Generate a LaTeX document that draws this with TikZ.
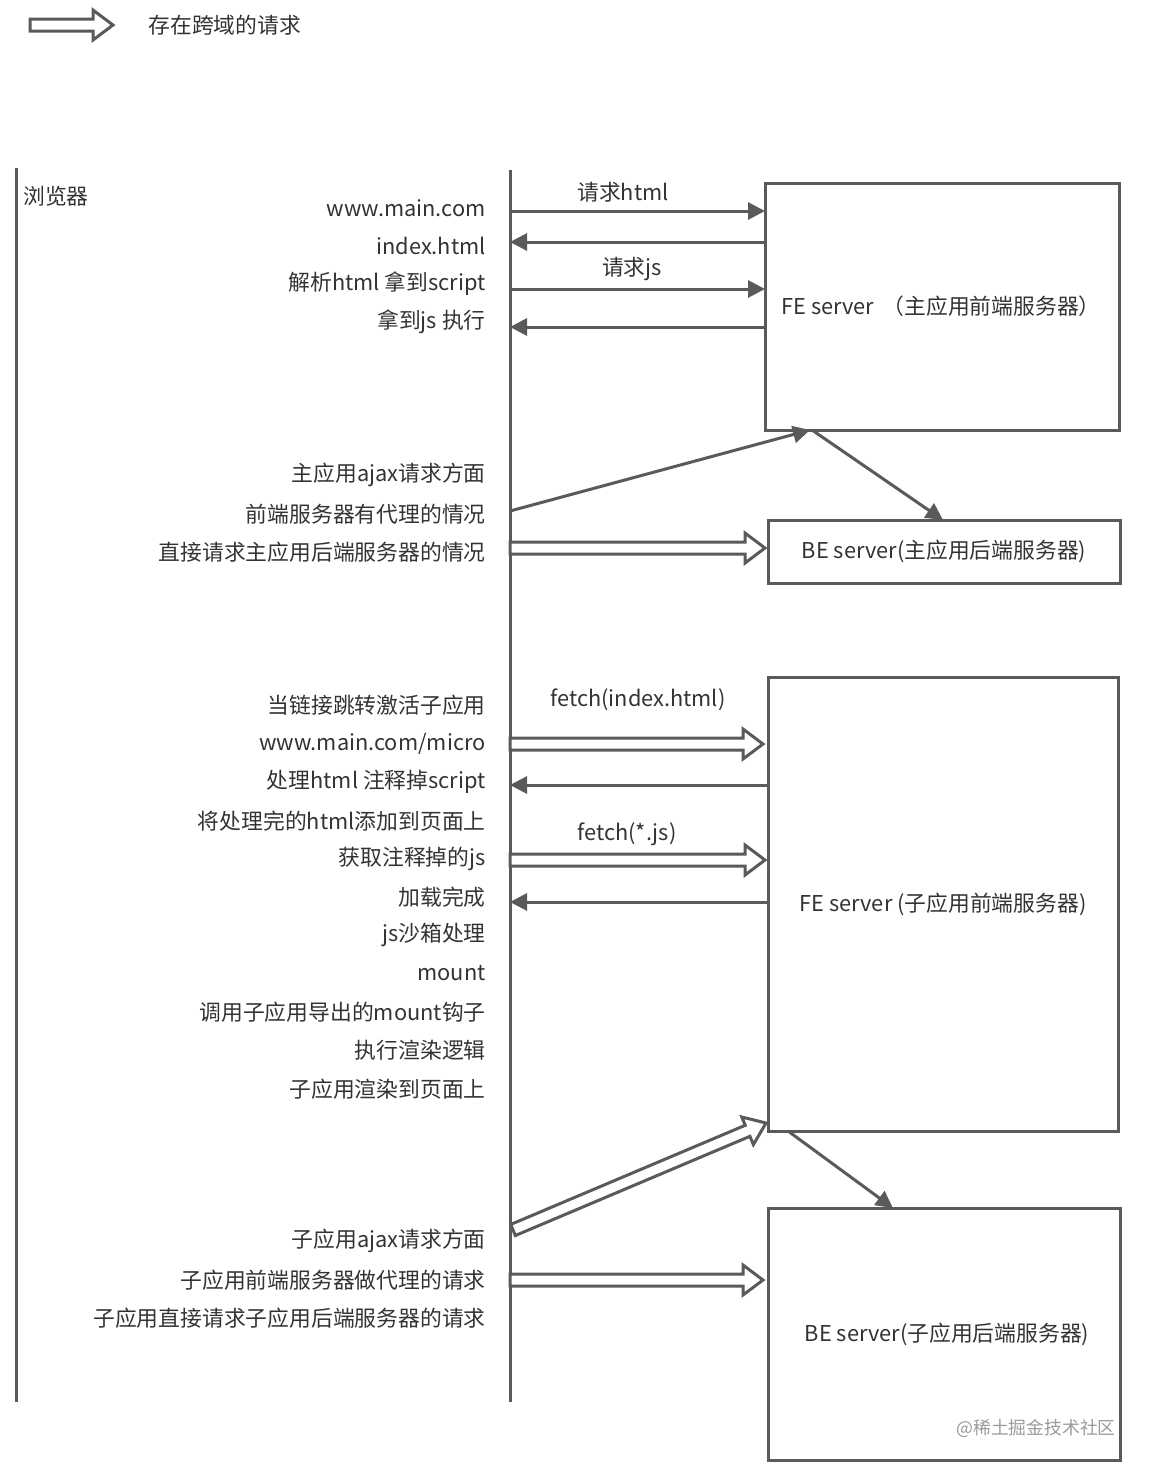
\documentclass[tikz,border=0pt]{standalone}
\usepackage{fontspec}
\setmainfont{Noto Sans CJK SC}
\usetikzlibrary{arrows.meta,calc}
\definecolor{ln}{HTML}{5A5A5A}
\definecolor{tx}{HTML}{333333}
\definecolor{wm}{HTML}{9A9A9A}
\newcommand\hollowarrow[3]{%
  \coordinate (#3n) at ($(#2)!10pt!(#1)$);
  \draw[hollow] ($(#1)!3pt!90:(#2)$) -- ($(#3n)!3pt!-90:(#1)$) -- ($(#3n)!7.5pt!-90:(#1)$) -- (#2) -- ($(#3n)!7.5pt!90:(#1)$) -- ($(#3n)!3pt!90:(#1)$) -- ($(#1)!3pt!-90:(#2)$) -- cycle;}
\begin{document}
\begin{tikzpicture}[x=0.5pt,y=-0.5pt,
  every node/.style={font=\fontsize{10.9pt}{13pt}\selectfont, text=tx},
  lifeline/.style={draw=ln, line width=1.5pt},
  box/.style={draw=ln, line width=1.5pt, outer sep=0pt, inner sep=0pt},
  arr/.style={draw=ln, line width=1.5pt, -{Triangle[length=8.5pt,width=8.5pt]}},
  hollow/.style={draw=ln, fill=white, line width=1.5pt, line join=miter},
  lbl/.style={anchor=east, inner sep=0pt},
  albl/.style={inner sep=0pt}]
\useasboundingbox (0,0) rectangle (1152,1474);

% legend
\coordinate (la) at (30,25);
\coordinate (lb) at (113,25);
\hollowarrow{la}{lb}{leg}
\node[anchor=west, inner sep=0pt] (legt) at (148,25) {存在跨域的请求};

% lifelines
\coordinate (lt) at (16,168);
\coordinate (lbtm) at (16,1402);
\coordinate (mt) at (510,170);
\coordinate (mb) at (510,1402);
\draw[lifeline] (lt) -- (lbtm);
\draw[lifeline] (mt) -- (mb);
\node[anchor=west, inner sep=0pt] (browser) at (23,196) {浏览器};

% boxes
\node[box, minimum width=177pt, minimum height=123.5pt] (fe1) at (942,306.5) {};
\node[inner sep=0pt] (fe1t) at ([xshift=-0.5pt]fe1.center) {FE server \,（主应用前端服务器）};
\node[box, minimum width=176pt, minimum height=31.5pt] (be1) at (944,551.5) {BE server(主应用后端服务器)};
\node[box, minimum width=175pt, minimum height=227pt] (fe2) at (943,904) {FE server (子应用前端服务器)};
\node[box, minimum width=176pt, minimum height=126pt] (be2) at (944,1334) {};
\node[inner sep=0pt] (be2t) at ([xshift=1.5pt]be2.center) {BE server(子应用后端服务器)};

% left labels
\node[lbl] (t1) at (486,208) {www.main.com};
\node[lbl] (t2) at (486,246) {index.html};
\node[lbl] (t3) at (486,284) {解析html 拿到script};
\node[lbl] (t4) at (486,322) {拿到js 执行};
\node[lbl] (t5) at (486,475) {主应用ajax请求方面};
\node[lbl] (t6) at (486,514) {前端服务器有代理的情况};
\node[lbl] (t7) at (486,552) {直接请求主应用后端服务器的情况};
\node[lbl] (t8) at (486,705) {当链接跳转激活子应用};
\node[lbl] (t9) at (486,744) {www.main.com/micro};
\node[lbl] (t10) at (486,782) {处理html 注释掉script};
\node[lbl] (t11) at (486,821) {将处理完的html添加到页面上};
\node[lbl] (t12) at (486,859) {获取注释掉的js};
\node[lbl] (t13) at (486,897) {加载完成};
\node[lbl] (t14) at (486,935) {js沙箱处理};
\node[lbl] (t15) at (486,973) {mount};
\node[lbl] (t16) at (486,1012) {调用子应用导出的mount钩子};
\node[lbl] (t17) at (486,1050) {执行渲染逻辑};
\node[lbl] (t18) at (486,1089) {子应用渲染到页面上};
\node[lbl] (t19) at (486,1241) {子应用ajax请求方面};
\node[lbl] (t20) at (486,1280) {子应用前端服务器做代理的请求};
\node[lbl] (t21) at (486,1318) {子应用直接请求子应用后端服务器的请求};

% arrow labels
\node[albl] (a1) at (623,192) {请求html};
\node[albl] (a2) at (632,269) {请求js};
\node[albl] (a3) at (638,700) {fetch(index.html)};
\node[albl] (a4) at (627,834) {fetch(*.js)};

% main app arrows
\coordinate (m1) at (510,211);
\coordinate (m2) at (510,242);
\coordinate (m3) at (510,289);
\coordinate (m4) at (510,327);
\draw[arr] (m1) -- (m1 -| fe1.west);
\draw[arr] (m2 -| fe1.west) -- (m2);
\draw[arr] (m3) -- (m3 -| fe1.west);
\draw[arr] (m4 -| fe1.west) -- (m4);

\coordinate (d1) at (510,511);
\draw[arr] (d1) -- ([xshift=22.5pt]fe1.south west);
\draw[arr] ([xshift=23.5pt]fe1.south west) -- ([xshift=87.5pt]be1.north west);
\coordinate (h1) at (510,548);
\coordinate (h1e) at ([xshift=-1.5pt]h1 -| be1.west);
\hollowarrow{h1}{h1e}{ha}

% sub app arrows
\coordinate (s1) at (510,744);
\coordinate (s1e) at ([xshift=-2.5pt]s1 -| fe2.west);
\hollowarrow{s1}{s1e}{hb}
\coordinate (s2) at (510,785);
\draw[arr] (s2 -| fe2.west) -- (s2);
\coordinate (s3) at (510,860);
\coordinate (s3e) at ([xshift=-1.5pt]s3 -| fe2.west);
\hollowarrow{s3}{s3e}{hc}
\coordinate (s4) at (510,902);
\draw[arr] (s4 -| fe2.west) -- (s4);

\coordinate (s5) at (513,1230);
\coordinate (s5e) at ([yshift=4pt,xshift=-1pt]fe2.south west);
\hollowarrow{s5}{s5e}{hd}
\draw[arr] ([xshift=10pt]fe2.south west) -- ([xshift=62.5pt]be2.north west);
\coordinate (s6) at (510,1280);
\coordinate (s6e) at ([xshift=-2.5pt]s6 -| be2.west);
\hollowarrow{s6}{s6e}{he}

% watermark
\node[anchor=east, inner sep=0pt, text=wm, font=\fontsize{8.9pt}{11pt}\selectfont] (wmk) at (1116,1428) {@稀土掘金技术社区};
\end{tikzpicture}
\end{document}
